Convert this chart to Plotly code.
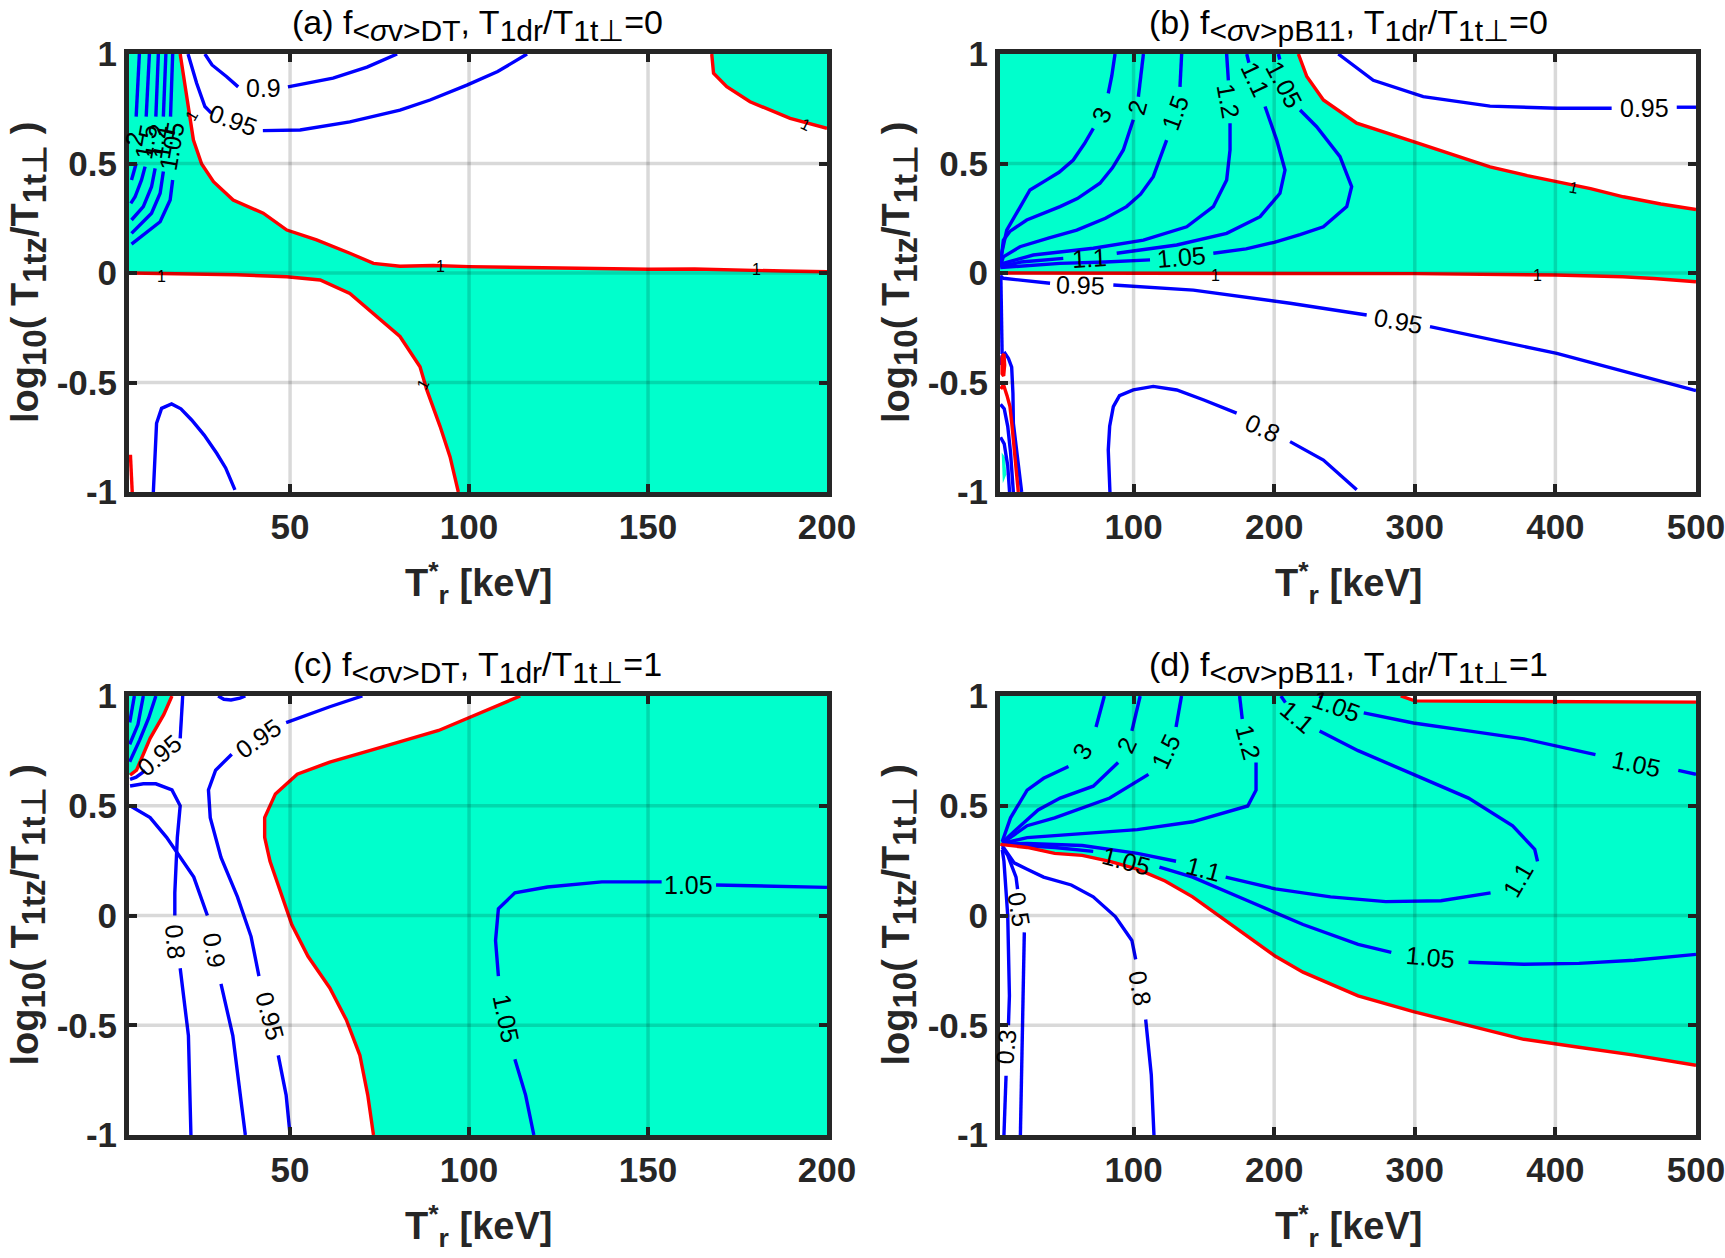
import plotly.graph_objects as go

# ---------------- axis ranges / ticks ----------------
XMIN, YMIN, YMAX = 5, -1, 1
XMAX_DT, XMAX_PB = 200, 500
XTICKS_DT = [50, 100, 150, 200]
XTICKS_PB = [100, 200, 300, 400, 500]
YTICKS = [-1, -0.5, 0, 0.5, 1]
YTICKTEXT = ["-1", "-0.5", "0", "0.5", "1"]

# ---------------- panel (a): DT, T1dr/T1t_perp = 0 ----------------
A_RED_UP = [(19.3, 1.0), (20.6, 0.866), (21.6, 0.744), (23.0, 0.607), (25.3, 0.498), (28.6, 0.417),
            (34.1, 0.333), (42.5, 0.273), (49.1, 0.196), (57.4, 0.151), (66.7, 0.09), (73.3, 0.044),
            (80.7, 0.031), (90, 0.034), (100, 0.029), (112, 0.026), (125, 0.022), (138, 0.02),
            (150, 0.017), (163, 0.018), (175, 0.012), (188, 0.009), (200, 0.006)]
A_RED_LO = [(5.5, 0.0), (20, -0.003), (35, -0.008), (49.1, -0.017), (58.4, -0.032), (66.7, -0.093),
            (74.2, -0.2), (80.7, -0.29), (86.3, -0.428), (88.2, -0.534), (91.9, -0.70), (94.7, -0.84),
            (97.0, -1.0)]
A_RED_RT = [(167.8, 1.0), (168.3, 0.912), (172.0, 0.851), (178.5, 0.782), (189.7, 0.706), (200, 0.661)]
A_RED_EDGE = [(5.4, -0.83), (5.9, -1.0)]
A_BLUE_090 = [(26.2, 1.0), (28.2, 0.95), (32.3, 0.896), (35.5, 0.85), None,
              (49.4, 0.85), (62, 0.89), (71.5, 0.94), (79.9, 1.0)]
A_BLUE_095 = [(21.5, 1.0), (23.9, 0.866), (26.2, 0.76), (28.0, 0.73), None,
              (42.4, 0.65), (52.8, 0.653), (66.7, 0.69), (80.7, 0.744), (89.1, 0.79),
              (99.4, 0.858), (108, 0.92), (116.2, 1.0)]
A_BLUE_ARCH = [(11.8, -1.0), (12.3, -0.8), (12.7, -0.686), (14.1, -0.618), (16.9, -0.598), (19.5, -0.62),
               (22.5, -0.671), (26, -0.74), (29.5, -0.823), (32, -0.89), (34.6, -0.99)]
A_BLUE_2 = [(7.9, 1.0), (7.0, 0.714), None, (7.0, 0.50), (5.7, 0.425)]
A_BLUE_15 = [(10.7, 1.0), (9.8, 0.714), None, (9.5, 0.486), (8.5, 0.425), (6.7, 0.348), (5.5, 0.318)]
A_BLUE_12 = [(13.2, 1.0), (12.5, 0.714), None, (12.3, 0.478), (11.3, 0.394), (9.0, 0.303), (5.7, 0.242)]
A_BLUE_11 = [(15.3, 1.0), (14.6, 0.714), None, (14.6, 0.463), (13.7, 0.364), (11.3, 0.273), (5.7, 0.181)]
A_BLUE_105 = [(17.2, 1.0), (16.6, 0.714), None, (17.2, 0.425), (16.5, 0.333), (13.7, 0.234), (5.7, 0.132)]
A_LABELS = [(42.5, 0.845, "0.9", 0), (34.1, 0.70, "0.95", 20),
            (6.6, 0.61, "2", -80), (9.6, 0.60, "1.5", -80), (12.3, 0.60, "1.2", -80),
            (14.6, 0.60, "1.1", -80), (16.9, 0.58, "1.05", -80)]
A_ONE = [(14.1, -0.017, 0), (91.9, 0.029, 0), (180.4, 0.014, 0), (193.9, 0.676, 25),
         (87.2, -0.511, -60), (22.5, 0.72, -60)]

# ---------------- panel (b): pB11, T1dr/T1t_perp = 0 ----------------
B_RED_UP = [(217.2, 1.0), (223.2, 0.897), (235, 0.79), (258.7, 0.684), (299, 0.6), (325, 0.545),
            (353.5, 0.485), (380, 0.445), (401, 0.417), (425, 0.385), (448.3, 0.348), (475, 0.315),
            (500, 0.29)]
B_RED_LO = [(5.5, 0.0), (100, -0.001), (200, 0.0), (300, -0.003), (400, -0.009), (448, -0.017),
            (470, -0.025), (500, -0.04)]
B_BLUE_3 = [(86.8, 1.0), (84.5, 0.9), (82, 0.82), None, (71.4, 0.66), (65, 0.59), (57.1, 0.516),
            (47, 0.46), (38.2, 0.425), (26.3, 0.379), (19.2, 0.30), (9.8, 0.196), (6.2, 0.09), (5.2, 0.03)]
B_BLUE_2 = [(107, 1.0), (105, 0.88), (103.4, 0.805), None, (99.8, 0.7), (92.7, 0.562), (85, 0.48),
            (76.1, 0.41), (60, 0.34), (47.7, 0.303), (24, 0.242), (12, 0.19), (7.4, 0.15), (5.2, 0.03)]
B_BLUE_15 = [(134.2, 1.0), (133, 0.85), None, (123.5, 0.607), (114, 0.44), (105, 0.36), (95, 0.303),
             (80, 0.25), (59.6, 0.196), (40, 0.16), (19.2, 0.12), (7.4, 0.074), (5.2, 0.03)]
B_BLUE_12 = [(166.2, 1.0), (167.4, 0.88), None, (168.6, 0.684), (168.6, 0.562), (166.2, 0.425),
             (156.7, 0.303), (137.8, 0.211), (107, 0.15), (71.4, 0.113), (28.7, 0.082), (7.4, 0.044),
             (5.2, 0.03)]
B_BLUE_11 = [(180.5, 1.0), (182, 0.96), None, (193.5, 0.76), (201.8, 0.607), (207.7, 0.47),
             (204.1, 0.364), (190, 0.257), (166.2, 0.181), (130.7, 0.128), (88, 0.09), None,
             (50, 0.067), (20, 0.05), (5.2, 0.03)]
B_BLUE_105 = [(203, 1.0), (204, 0.975), None, (218.4, 0.744), (230.2, 0.668), (246.8, 0.531),
              (255.1, 0.394), (251.6, 0.303), (235, 0.211), (218.4, 0.175), (200, 0.14), (180, 0.11),
              (156.7, 0.09), None, (111.7, 0.06), (80, 0.05), (47.7, 0.044), (20, 0.03), (5.2, 0.025)]
B_BLUE_095_UP = [(245.6, 1.0), (258, 0.94), (270.5, 0.88), (306, 0.805), (353.5, 0.762), (401, 0.752),
                 (440, 0.752), None, (486.3, 0.757), (500, 0.757)]
B_BLUE_095_LO = [(5.5, -0.015), (7.4, -0.024), (40.6, -0.047), None, (85.6, -0.055), (142.5, -0.078),
                 (211.3, -0.138), (265.8, -0.192), None, (310.8, -0.245), (401, -0.367),
                 (498, -0.534), (500, -0.537)]
B_BLUE_08 = [(83.2, -1.0), (82, -0.808), (83, -0.7), (85.6, -0.61), (90, -0.56), (99.8, -0.534),
             (114, -0.518), (130.7, -0.534), (150, -0.58), (173.3, -0.64), None, (211.3, -0.77),
             (235, -0.854), (258.7, -0.99)]
B_BLUE_EDGE = [(5.6, -0.01), (6.0, -0.15), (6.2, -0.3), (6.5, -0.37)]
B_BLUE_CL_OUT = [(5.3, -0.42), (6.5, -0.38), (8.6, -0.367), (11, -0.39), (13.3, -0.43), (14.2, -0.55),
                 (14.5, -0.686), (16.5, -0.8), (18.5, -0.9), (20.4, -1.0)]
B_BLUE_CL_IN1 = [(5.4, -0.6), (8, -0.62), (10.5, -0.7), (12.5, -0.82), (14.5, -1.0)]
B_BLUE_CL_IN2 = [(5.4, -0.75), (8, -0.78), (10.5, -0.88), (11.8, -1.0)]
B_RED_CL1 = [(6.5, -0.38), (7.8, -0.37), (8.3, -0.42), (7.6, -0.47), (6.5, -0.46), (6.5, -0.38)]
B_RED_CL2 = [(5.5, -0.53), (7.5, -0.51), (10, -0.56), (12.1, -0.61), (13.6, -0.7), (14.5, -0.763),
             (16, -0.87), (18, -1.0)]
B_CYAN_CL = [(6.2, -0.82), (8.5, -0.84), (9.5, -0.92), (7.0, -0.96)]
B_LABELS = [(77.3, 0.72, "3", -65), (102.2, 0.755, "2", -75), (129.5, 0.73, "1.5", -70),
            (167.4, 0.785, "1.2", 80), (186.5, 0.885, "1.1", 65), (207.5, 0.86, "1.05", 62),
            (69, 0.07, "1.1", -3), (134, 0.072, "1.05", -5), (463.5, 0.755, "0.95", 0),
            (62.5, -0.055, "0.95", 2), (288.5, -0.22, "0.95", 10), (192, -0.71, "0.8", 25)]
B_ONE = [(158, -0.01, 0), (387, -0.01, 0), (412.7, 0.39, 10)]

# ---------------- panel (c): DT, T1dr/T1t_perp = 1 ----------------
C_RED = [(114.3, 1.0), (102.1, 0.915), (91.5, 0.843), (76.3, 0.771), (61.1, 0.699), (52, 0.644),
         (45.9, 0.554), (42.9, 0.446), (42.9, 0.356), (44.4, 0.247), (47.4, 0.103), (50.5, -0.042),
         (55, -0.186), (61.1, -0.33), (65.7, -0.475), (69.5, -0.637), (71.7, -0.818), (73.3, -1.0)]
C_RED_TL = [(5.3, 0.64), (7.1, 0.662), (10.9, 0.807), (14.7, 0.915), (17, 1.0)]
C_BLUE_TL1 = [(5.2, 0.70), (8, 0.8), (10.5, 0.9), (12.5, 1.0)]
C_BLUE_TL2 = [(5.2, 0.78), (7.5, 0.87), (9, 1.0)]
C_BLUE_TL3 = [(5.2, 0.88), (6.5, 1.0)]
C_BLUE_095A = [(20, 1.0), (19.7, 0.9), (19.3, 0.807), None, (9.5, 0.66), (7, 0.63), (5.3, 0.62)]
C_BLUE_08 = [(5.3, 0.59), (9, 0.6), (12.5, 0.6), (17, 0.572), (19.3, 0.5), (18.5, 0.356), (17.8, 0.103),
             (17.8, 0.0), None, (19.3, -0.24), (21.6, -0.547), (22.3, -1.0)]
C_BLUE_09 = [(5.3, 0.5), (10.9, 0.446), (15.5, 0.356), (20, 0.25), (23.1, 0.175), (26.9, 0.0), None,
             (30.7, -0.312), (34.0, -0.547), (37.5, -1.0)]
C_BLUE_095 = [(70.2, 1.0), (61.1, 0.951), (48.9, 0.879), None, (33.7, 0.735), (29.2, 0.662),
              (27.2, 0.572), (27.7, 0.446), (30.7, 0.265), (35.3, 0.085), (39.1, -0.096), (41.3, -0.276),
              None, (46.7, -0.637), (48.9, -0.818), (50, -1.0)]
C_BLUE_BUMP = [(29.9, 1.0), (31.5, 0.985), (33.5, 0.982), (36, 0.99), (37.5, 1.0)]
C_BLUE_105 = [(200, 0.128), (185, 0.135), (169, 0.139), None, (153.8, 0.153), (137.1, 0.153),
              (121.9, 0.13), (112.8, 0.103), (108.2, 0.031), (107.4, -0.114), (108.2, -0.276), None,
              (112.8, -0.655), (115.8, -0.818), (118.1, -1.0)]
C_LABELS = [(13.5, 0.73, "0.95", -40), (41.3, 0.807, "0.95", -35), (18.0, -0.12, "0.8", 85),
            (29.0, -0.16, "0.9", 80), (44.3, -0.46, "0.95", 75), (161.4, 0.139, "1.05", 0),
            (110.5, -0.47, "1.05", 78)]

# ---------------- panel (d): pB11, T1dr/T1t_perp = 1 ----------------
D_RED = [(5.2, 0.325), (6.6, 0.323), (24.3, 0.31), (43.9, 0.283), (63.5, 0.274), (83.1, 0.247),
         (102.7, 0.211), (122.4, 0.157), (142, 0.085), (161.6, -0.005), (181.2, -0.095),
         (200.9, -0.186), (220.5, -0.258), (259.7, -0.366), (299, -0.438), (338.2, -0.501),
         (377.5, -0.564), (416.7, -0.6), (456, -0.636), (500, -0.682)]
D_RED_TOP = [(290, 1.0), (300, 0.978), (350, 0.976), (400, 0.975), (450, 0.974), (500, 0.972)]
D_BLUE_3 = [(79.2, 1.0), (73.3, 0.859), None, (53.7, 0.679), (36, 0.625), (24.3, 0.571), (12.5, 0.445),
            (6.6, 0.337)]
D_BLUE_2 = [(104.7, 1.0), (98.8, 0.841), None, (89, 0.697), (71.3, 0.589), (47.8, 0.535), (32.1, 0.481),
            (16.4, 0.391), (6.6, 0.333)]
D_BLUE_15 = [(134.1, 1.0), (130.2, 0.859), None, (110.6, 0.643), (83.1, 0.535), (43.9, 0.445),
             (24.3, 0.409), (6.6, 0.33)]
D_BLUE_12 = [(175.4, 1.0), (177.3, 0.895), None, (187.1, 0.697), (187.1, 0.571), (181.2, 0.499),
             (142, 0.427), (102.7, 0.391), (63.5, 0.373), (24.3, 0.355), (6.6, 0.328)]
D_BLUE_11 = [(204.8, 1.0), (208, 0.97), None, (232.3, 0.841), (259.7, 0.751), (299, 0.643),
             (338.2, 0.535), (369.6, 0.409), (385.3, 0.301), (387.3, 0.247), None, (353.9, 0.103),
             (318.6, 0.067), (279.4, 0.063), (240.1, 0.085), (200.9, 0.121), (165.5, 0.175), None,
             (130.2, 0.247), (102.7, 0.283), (63.5, 0.319), (24.3, 0.328), (6.6, 0.325)]
D_BLUE_105_UP = [(232.3, 1.0), (234, 0.99), None, (263.7, 0.923), (299, 0.877), (338.2, 0.841),
                 (377.5, 0.805), (428.5, 0.733), None, (487.4, 0.661), (500, 0.643)]
D_BLUE_105_LO = [(6.6, 0.325), (43.9, 0.31), (71.3, 0.292), None, (118.4, 0.22), (142, 0.175),
                 (181.2, 0.067), (220.5, -0.041), (259.7, -0.132), (283.3, -0.168), None,
                 (338.2, -0.213), (377.5, -0.222), (416.7, -0.218), (456, -0.204), (500, -0.177)]
D_BLUE_08 = [(6.6, 0.318), (15, 0.24), (24.3, 0.211), (36, 0.175), (55.7, 0.139), (71.3, 0.085),
             (87, -0.005), (98.8, -0.114), (101.5, -0.2), None, (108.6, -0.474), (112.6, -0.726),
             (114.5, -1.0)]
D_BLUE_05 = [(6.6, 0.31), (10.5, 0.274), (16.4, 0.175), (17.5, 0.12), None, (22.3, -0.077),
             (21.5, -0.366), (20.3, -0.726), (19.5, -1.0)]
D_BLUE_03 = [(6.6, 0.3), (7.8, 0.247), (10.5, 0.0), (11.7, -0.366), (11, -0.5), None, (9.3, -0.73),
             (8.5, -0.85), (7.8, -1.0)]
D_LABELS = [(63.5, 0.75, "3", -60), (94.9, 0.778, "2", -65), (123, 0.75, "1.5", -65),
            (181.5, 0.79, "1.2", 75), (216.6, 0.905, "1.1", 40), (244, 0.955, "1.05", 20),
            (458, 0.69, "1.05", 12), (373.5, 0.16, "1.1", -60), (149.8, 0.21, "1.1", 15),
            (95, 0.25, "1.05", 15), (311, -0.19, "1.05", 5), (104.7, -0.33, "0.8", 80),
            (18.6, 0.03, "0.5", 80), (9.3, -0.6, "0.3", -85)]

# ---------------- styling / layout ----------------
FONT = "Arial, 'Liberation Sans', Helvetica, sans-serif"
CYAN = "#00FFCC"
BLUE = "#0000FF"
RED = "#FF0000"
FRAME = "#262626"
W, H = 1725, 1258
BOX = {"a": (129, 827, 54, 492), "b": (1000, 1696, 54, 492),
       "c": (129, 827, 696, 1135), "d": (1000, 1696, 696, 1135)}
AXID = {"a": ("x", "y"), "b": ("x2", "y2"), "c": ("x3", "y3"), "d": ("x4", "y4")}


def sub(txt, size):
    return "<sub><span style=\"font-size:%dpx\">%s</span></sub>" % (size, txt)


TS = 30  # title subscript size
TITLES = {
    "a": "(a) f" + sub("&lt;<i>σ</i>v&gt;DT", TS) + ", T" + sub("1dr", TS) + "/T" + sub("1t⊥", TS) + "=0",
    "b": "(b) f" + sub("&lt;<i>σ</i>v&gt;pB11", TS) + ", T" + sub("1dr", TS) + "/T" + sub("1t⊥", TS) + "=0",
    "c": "(c) f" + sub("&lt;<i>σ</i>v&gt;DT", TS) + ", T" + sub("1dr", TS) + "/T" + sub("1t⊥", TS) + "=1",
    "d": "(d) f" + sub("&lt;<i>σ</i>v&gt;pB11", TS) + ", T" + sub("1dr", TS) + "/T" + sub("1t⊥", TS) + "=1",
}
YS = 33  # y title subscript size
YTITLE = "<b>log" + sub("10", YS) + "( T" + sub("1tz", YS) + "/T" + sub("1t⊥", YS) + " )</b>"
XTITLE = "<b>T<sup>*</sup><sub>r</sub> [keV]</b>"

fig = go.Figure()


def xy(pts):
    xs, ys = [], []
    for p in pts:
        if p is None:
            xs.append(None)
            ys.append(None)
        else:
            xs.append(p[0])
            ys.append(p[1])
    return xs, ys


def fill(panel, pts):
    xs, ys = xy(pts)
    xa, ya = AXID[panel]
    fig.add_trace(go.Scatter(x=xs, y=ys, xaxis=xa, yaxis=ya, mode="lines", fill="toself",
                             fillcolor=CYAN, line=dict(width=0, color=CYAN), hoverinfo="skip",
                             showlegend=False))


def line(panel, pts, color, width=3.4):
    xs, ys = xy(pts)
    xa, ya = AXID[panel]
    fig.add_trace(go.Scatter(x=xs, y=ys, xaxis=xa, yaxis=ya, mode="lines",
                             line=dict(color=color, width=width), connectgaps=False,
                             hoverinfo="skip", showlegend=False))


# cyan regions (f > 1), bounded by the red f=1 contours and the axis limits
fill("a", [(XMIN, YMAX)] + A_RED_UP + [(XMAX_DT, YMIN)] + A_RED_LO[::-1] + [(XMIN, A_RED_LO[0][1])])
fill("a", A_RED_RT + [(XMAX_DT, YMAX)])
fill("b", [(XMIN, YMAX)] + B_RED_UP + B_RED_LO[::-1] + [(XMIN, B_RED_LO[0][1])])
fill("b", B_CYAN_CL)
fill("c", C_RED + [(XMAX_DT, YMIN), (XMAX_DT, YMAX)])
fill("c", [(XMIN, C_RED_TL[0][1])] + C_RED_TL + [(XMIN, YMAX)])
fill("d", [(XMIN, YMAX)] + D_RED_TOP + D_RED[::-1] + [(XMIN, D_RED[0][1])])

for pts in [A_BLUE_090, A_BLUE_095, A_BLUE_ARCH, A_BLUE_2, A_BLUE_15, A_BLUE_12, A_BLUE_11, A_BLUE_105]:
    line("a", pts, BLUE)
for pts in [A_RED_UP, A_RED_LO, A_RED_RT, A_RED_EDGE]:
    line("a", pts, RED)

for pts in [B_BLUE_3, B_BLUE_2, B_BLUE_15, B_BLUE_12, B_BLUE_11, B_BLUE_105, B_BLUE_095_UP,
            B_BLUE_095_LO, B_BLUE_08, B_BLUE_EDGE, B_BLUE_CL_OUT, B_BLUE_CL_IN1, B_BLUE_CL_IN2]:
    line("b", pts, BLUE)
for pts in [B_RED_UP, B_RED_LO, B_RED_CL1, B_RED_CL2]:
    line("b", pts, RED)

for pts in [C_BLUE_TL1, C_BLUE_TL2, C_BLUE_TL3, C_BLUE_095A, C_BLUE_08, C_BLUE_09, C_BLUE_095,
            C_BLUE_BUMP, C_BLUE_105]:
    line("c", pts, BLUE)
for pts in [C_RED, C_RED_TL]:
    line("c", pts, RED)

for pts in [D_BLUE_3, D_BLUE_2, D_BLUE_15, D_BLUE_12, D_BLUE_11, D_BLUE_105_UP, D_BLUE_105_LO,
            D_BLUE_08, D_BLUE_05, D_BLUE_03]:
    line("d", pts, BLUE)
for pts in [D_RED, D_RED_TOP]:
    line("d", pts, RED)

annotations = []
shapes = []


def px2paper(px, py):
    return px / W, 1 - py / H


for key, (l, r, t, b) in BOX.items():
    xa, ya = AXID[key]
    sfx = "" if xa == "x" else xa[1:]
    xmax = XMAX_DT if key in "ac" else XMAX_PB
    xt = XTICKS_DT if key in "ac" else XTICKS_PB
    x0, y1 = px2paper(l, t)
    x1, y0 = px2paper(r, b)
    common = dict(showline=True, linewidth=5, linecolor=FRAME, mirror="allticks", ticks="inside",
                  ticklen=8, tickwidth=3.5, tickcolor=FRAME, showgrid=False, zeroline=False,
                  automargin=False, layer="above traces", ticklabeloverflow="allow",
                  tickfont=dict(family=FONT, size=35, color="#262626", weight="bold"),
                  ticklabelstandoff=0, fixedrange=True)
    fig.layout["xaxis" + sfx] = dict(domain=[x0, x1], range=[XMIN, xmax], anchor="y" + sfx,
                                     tickvals=xt, ticktext=[str(v) for v in xt], **common)
    fig.layout["yaxis" + sfx] = dict(domain=[y0, y1], range=[YMIN, YMAX], anchor="x" + sfx,
                                     tickvals=YTICKS, ticktext=YTICKTEXT, **common)
    # grid lines drawn above the filled regions
    for v in xt:
        if v < xmax:
            shapes.append(dict(type="line", xref=xa, yref=ya, x0=v, x1=v, y0=YMIN, y1=YMAX,
                               line=dict(color="rgba(0,0,0,0.15)", width=3.5), layer="above"))
    for v in YTICKS[1:-1]:
        shapes.append(dict(type="line", xref=xa, yref=ya, x0=XMIN, x1=xmax, y0=v, y1=v,
                           line=dict(color="rgba(0,0,0,0.15)", width=3.5), layer="above"))
    # title
    annotations.append(dict(text=TITLES[key], xref="paper", yref="paper", x=(x0 + x1) / 2,
                            y=1 - (t - 29) / H, yanchor="middle", xanchor="center", showarrow=False,
                            font=dict(family=FONT, size=34, color="black")))
    # axis titles
    cx = (l + r) / 2
    annotations.append(dict(text=XTITLE, xref="paper", yref="paper",
                            x=cx / W, y=1 - (b + 91) / H, xanchor="center", yanchor="middle",
                            showarrow=False, font=dict(family=FONT, size=38, color="#262626")))
    annotations.append(dict(text=YTITLE, xref="paper", yref="paper", x=(l - 101) / W,
                            y=1 - (t + b) / 2 / H, xanchor="center", yanchor="middle", textangle=-90,
                            showarrow=False, font=dict(family=FONT, size=38, color="#262626")))

for key, labels in [("a", A_LABELS), ("b", B_LABELS), ("c", C_LABELS), ("d", D_LABELS)]:
    xa, ya = AXID[key]
    for (x, y, txt, ang) in labels:
        annotations.append(dict(text=txt, x=x, y=y, xref=xa, yref=ya, showarrow=False,
                                textangle=ang, font=dict(family=FONT, size=25, color="black")))
for key, ones in [("a", A_ONE), ("b", B_ONE)]:
    xa, ya = AXID[key]
    for (x, y, ang) in ones:
        annotations.append(dict(text="1", x=x, y=y, xref=xa, yref=ya, showarrow=False,
                                textangle=ang, font=dict(family=FONT, size=16, color="black")))

fig.update_layout(width=W, height=H, margin=dict(l=0, r=0, t=0, b=0), paper_bgcolor="white",
                  plot_bgcolor="white", annotations=annotations, shapes=shapes, showlegend=False)
fig.write_html("out.html")
